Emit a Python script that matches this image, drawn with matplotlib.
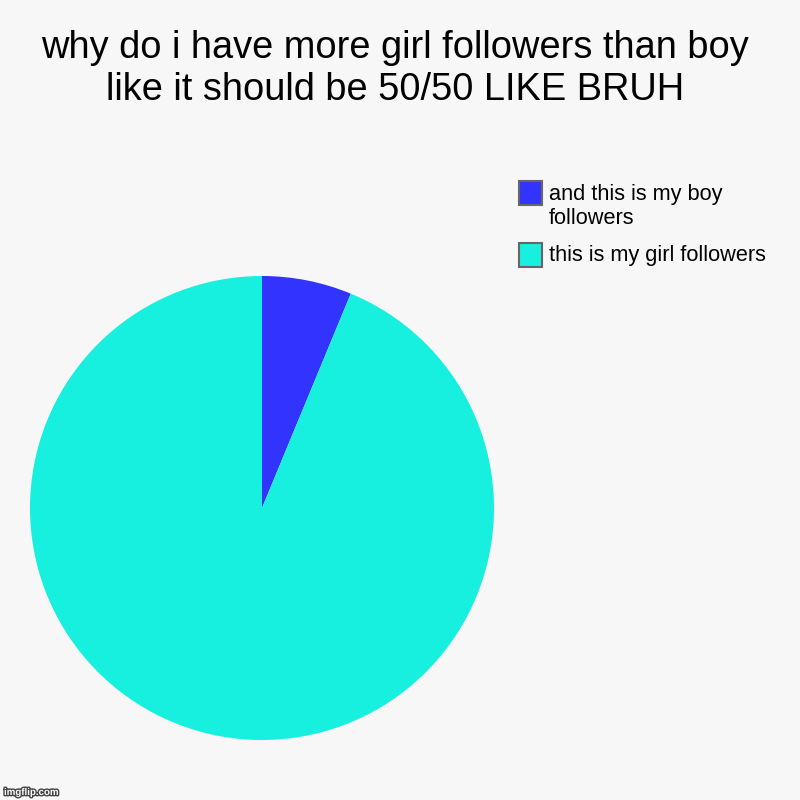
import matplotlib.pyplot as plt
import matplotlib.patheffects as pe
from matplotlib.patches import Rectangle

labels = ["and this is my boy\nfollowers", "this is my girl followers"]
values = [1, 15]
colors = ["#3333ff", "#17efdf"]
title = "why do i have more girl followers than boy\nlike it should be 50/50 LIKE BRUH"

plt.rcParams['font.family'] = ['Liberation Sans', 'DejaVu Sans']
bg = "#f7f7f7"

fig = plt.figure(figsize=(8, 8), dpi=100, facecolor=bg)
ax = fig.add_axes([30 / 800, 60 / 800, 464 / 800, 464 / 800])
ax.set_facecolor(bg)
ax.pie(values, colors=colors, startangle=90, counterclock=False,
       radius=1, wedgeprops=dict(linewidth=0))
ax.set_xlim(-1, 1)
ax.set_ylim(-1, 1)
ax.set_aspect('equal')
ax.axis('off')

fig.text(395 / 800, 1 - 69 / 800, title, ha='center', va='center',
         fontsize=27.4, linespacing=1.2)

# legend
box_y = [193, 255]
text_y = [206.5, 256]
for lab, col, by, ty in zip(labels, colors, box_y, text_y):
    fig.patches.append(Rectangle((519 / 800, 1 - (by + 11.5) / 800), 23 / 800, 23 / 800,
                                 transform=fig.transFigure, facecolor=col,
                                 edgecolor="#666666", linewidth=1.5))
    fig.text(549 / 800, 1 - ty / 800, lab, ha='left', va='center',
             fontsize=15.7, linespacing=1.2)

fig.text(4 / 800, 1 - 792 / 800, "imgflip.com", ha='left', va='center',
         fontsize=7, color='white', fontweight='bold',
         path_effects=[pe.withStroke(linewidth=2, foreground='#444444')])

fig.savefig("out.png", dpi=100, facecolor=bg)
